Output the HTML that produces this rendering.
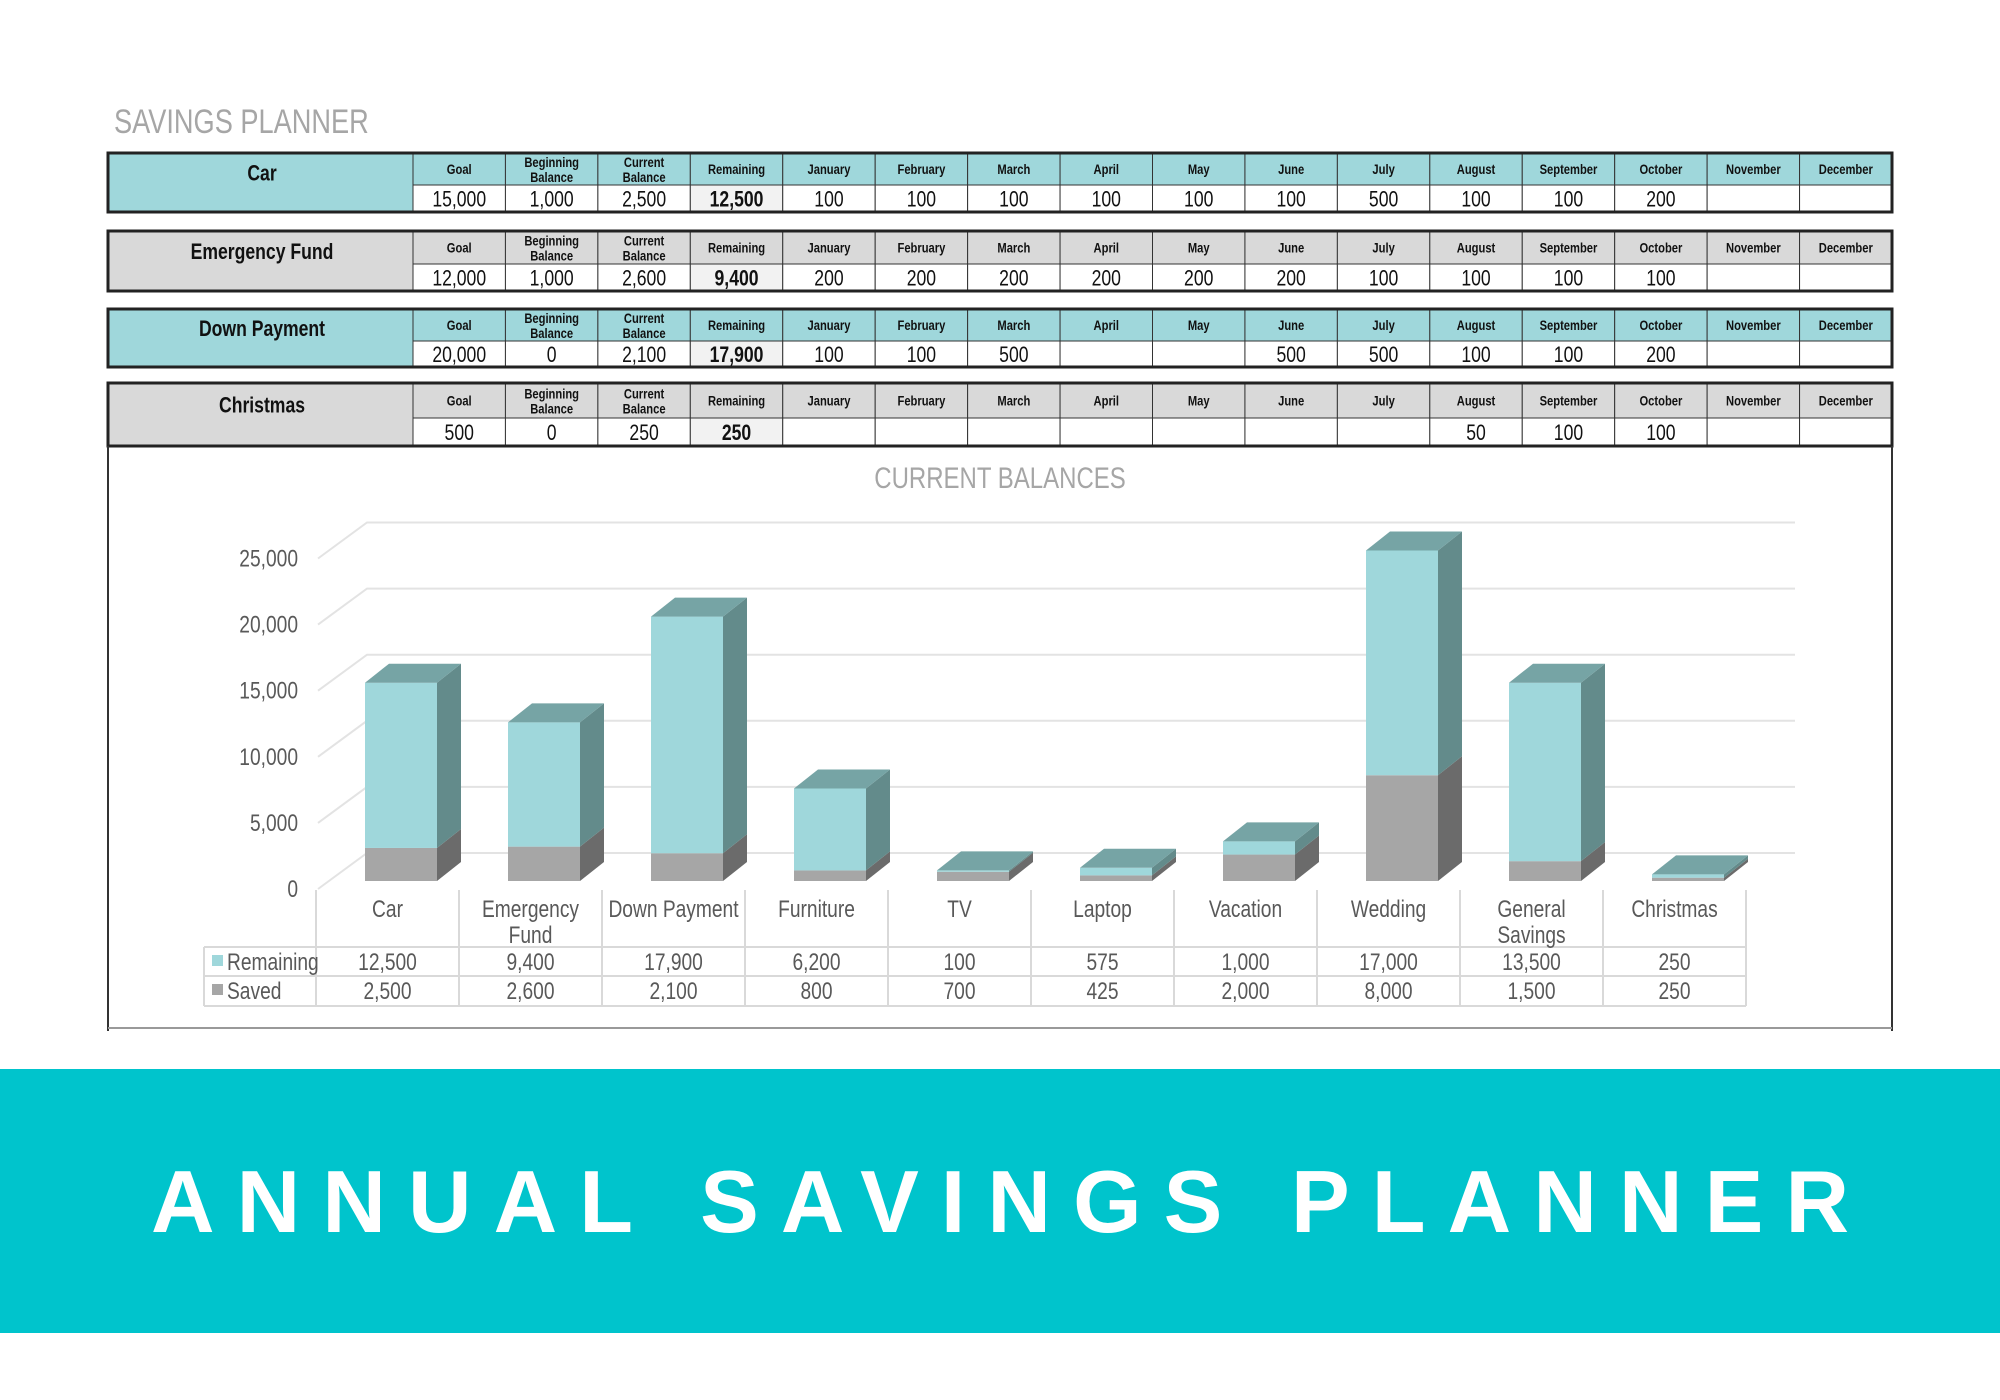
<!DOCTYPE html>
<html><head><meta charset="utf-8"><style>
html,body{margin:0;padding:0;background:#fff;}
svg{display:block;}
.n{font-family:"Liberation Sans Narrow","Liberation Sans",sans-serif;}
</style></head><body>
<svg id="root" width="2000" height="1400" viewBox="0 0 2000 1400" xmlns="http://www.w3.org/2000/svg">
<rect width="2000" height="1400" fill="#fff"/>
<text x="114" y="133" class="n" font-size="34" fill="#a6a6a6">SAVINGS PLANNER</text>
<g id="tables"></g>
<g id="chart"></g>
<rect x="0" y="1069" width="2000" height="264" fill="#00c4cc"/>
<text x="1000" y="1232" text-anchor="middle" font-family="Liberation Sans, sans-serif" font-weight="bold" font-size="88" fill="#fff" textLength="1698" lengthAdjust="spacing">ANNUAL SAVINGS PLANNER</text>
</svg>
<script>
var NS="http://www.w3.org/2000/svg";
function mk(p,tag,at){var e=document.createElementNS(NS,tag);for(var k in at)e.setAttribute(k,at[k]);p.appendChild(e);return e;}

// ---- tables data ----
var goalNames=["Car","Emergency Fund","Down Payment","Christmas"];
var goals=["15,000","12,000","20,000","500"];
var begins=["1,000","1,000","0","0"];
var currents=["2,500","2,600","2,100","250"];
var remains=["12,500","9,400","17,900","250"];
var monthsCar=["100","100","100","100","100","100","500","100","100","200","",""];
var monthsEF=["200","200","200","200","200","200","100","100","100","100","",""];
var monthsDP=["100","100","500","","","500","500","100","100","200","",""];
var monthsXmas=["","","","","","","","50","100","100","",""];
var headers=["Goal","Beginning|Balance","Current|Balance","Remaining","January","February","March","April","May","June","July","August","September","October","November","December"];

var allMonths=[monthsCar,monthsEF,monthsDP,monthsXmas];
var tops=[153,231,309,383],hh=[32,33,32,35],vh=[27,27,26,28];
var teal=["#9fd7db","#d9d9d9","#9fd7db","#d9d9d9"];
var tg=document.getElementById('tables');
var colW=(1892-413)/16;
for(var b=0;b<4;b++){
  var g=mk(tg,'g',{});
  
  
  var y=tops[b],H=hh[b]+vh[b];
  var nc=mk(g,'rect',{x:108,y:y,width:305,height:H,fill:teal[b]});
  
  
  var nt=mk(g,'text',{x:262,y:y+H/2-2,'text-anchor':'middle','font-size':22,'font-weight':'bold',fill:'#111','class':'n'});
  nt.textContent=goalNames[b];
  
  
  var vals=[goals[b],begins[b],currents[b],remains[b]].concat(allMonths[b]);
  for(var c=0;c<16;c++){
    var x=413+c*colW;
    mk(g,'rect',{x:x,y:y,width:colW,height:hh[b],fill:teal[b],stroke:'#333','stroke-width':1});
    var parts=headers[c].split('|');
    for(var p=0;p<parts.length;p++){
      var ht=mk(g,'text',{x:x+colW/2,y:parts.length==1?y+hh[b]/2+5:y+hh[b]/2-2+p*15,'text-anchor':'middle','font-size':14,'font-weight':'bold',fill:'#111','class':'n'});
      ht.textContent=parts[p];
      
      
    }
    var vc=mk(g,'rect',{x:x,y:y+hh[b],width:colW,height:vh[b],fill:c==3?'#f2f2f2':'#fff',stroke:'#333','stroke-width':1});
    
    
    var vt=mk(g,'text',{x:x+colW/2,y:y+hh[b]+vh[b]/2+8,'text-anchor':'middle','font-size':22,'font-weight':c==3?'bold':'normal',fill:'#111','class':'n'});
    vt.textContent=vals[c];
    
    
  }
  mk(g,'rect',{x:108,y:y,width:1784,height:H,fill:'none',stroke:'#222','stroke-width':3});
}

// ---- chart data ----
var categories=["Car","Emergency|Fund","Down Payment","Furniture","TV","Laptop","Vacation","Wedding","General|Savings","Christmas"];
var remaining=[12500,9400,17900,6200,100,575,1000,17000,13500,250];
var saved=[2500,2600,2100,800,700,425,2000,8000,1500,250];
var remainingLabels=["12,500","9,400","17,900","6,200","100","575","1,000","17,000","13,500","250"];
var savedLabels=["2,500","2,600","2,100","800","700","425","2,000","8,000","1,500","250"];
var yTicks=[0,5000,10000,15000,20000,25000];
var yTickLabels=["0","5,000","10,000","15,000","20,000","25,000"];

var ch=document.getElementById('chart');
var K=66.1/5000;
function yFront(v){return 889-v*K;}
function yBack(v){return 853-v*K;}
function yBar(v){return 881-v*K;}
var colL=316,colStep=143;
function xCol(i){return colL+i*colStep;}

mk(ch,'polyline',{points:'108,446 108,1031',stroke:'#333','stroke-width':2,fill:'none'});
mk(ch,'polyline',{points:'1892,446 1892,1031',stroke:'#333','stroke-width':2,fill:'none'});
mk(ch,'line',{x1:108,y1:1028,x2:1892,y2:1028,stroke:'#999','stroke-width':2});
var tt=mk(ch,'text',{x:1000,y:488,'text-anchor':'middle','font-size':30,fill:'#a6a6a6','class':'n'});
tt.textContent="CURRENT BALANCES";



for(var t=0;t<yTicks.length;t++){
  var v=yTicks[t];
  var gl=mk(ch,'polyline',{points:'318,'+yFront(v)+' 367,'+yBack(v)+' 1795,'+yBack(v),stroke:'#e3e3e3','stroke-width':2,fill:'none'});
  
  
  var tl=mk(ch,'text',{x:298,y:yFront(v)+8,'text-anchor':'end','font-size':24,fill:'#595959','class':'n'});
  tl.textContent=yTickLabels[t];
  
  
}

var W=72,DX=24,DY=-19;
function box(g,x,y0,y1,front,side,top,drawTop){
  mk(g,'rect',{x:x,y:y1,width:W,height:Math.max(0,y0-y1),fill:front});
  mk(g,'polygon',{points:(x+W)+','+y0+' '+(x+W+DX)+','+(y0+DY)+' '+(x+W+DX)+','+(y1+DY)+' '+(x+W)+','+y1,fill:side});
  if(drawTop)mk(g,'polygon',{points:x+','+y1+' '+(x+DX)+','+(y1+DY)+' '+(x+W+DX)+','+(y1+DY)+' '+(x+W)+','+y1,fill:top});
}
for(var i=0;i<categories.length;i++){
  var bx=xCol(i)+71.5+13.5-W/2;
  var gs=mk(ch,'g',{});
  
  
  box(gs,bx,yBar(0),yBar(saved[i]),'#a6a6a6','#6b6b6b','#8a8a8a',false);
  var gr=mk(ch,'g',{});
  
  
  box(gr,bx,yBar(saved[i]),yBar(saved[i]+remaining[i]),'#9fd7db','#638b8b','#76a4a5',true);
}

// data table
var tg2=mk(ch,'g',{});


mk(tg2,'line',{x1:204,y1:947,x2:1746,y2:947,stroke:'#d9d9d9','stroke-width':2});
mk(tg2,'line',{x1:204,y1:976,x2:1746,y2:976,stroke:'#d9d9d9','stroke-width':2});
mk(tg2,'line',{x1:204,y1:1006,x2:1746,y2:1006,stroke:'#d9d9d9','stroke-width':2});
mk(tg2,'line',{x1:204,y1:947,x2:204,y2:1006,stroke:'#d9d9d9','stroke-width':2});
for(var i=0;i<=categories.length;i++){
  mk(tg2,'line',{x1:xCol(i),y1:890,x2:xCol(i),y2:1006,stroke:'#d9d9d9','stroke-width':2});
}
for(var i=0;i<categories.length;i++){
  var cx=xCol(i)+71.5;
  var lines=categories[i].split('|');
  for(var p=0;p<lines.length;p++){
    var cl=mk(tg2,'text',{x:cx,y:917+p*26,'text-anchor':'middle','font-size':24,fill:'#595959','class':'n'});
    cl.textContent=lines[p];
    
    
  }
  var rv=mk(tg2,'text',{x:cx,y:970,'text-anchor':'middle','font-size':24,fill:'#595959','class':'n'});
  rv.textContent=remainingLabels[i];
  
  
  var sv=mk(tg2,'text',{x:cx,y:999,'text-anchor':'middle','font-size':24,fill:'#595959','class':'n'});
  sv.textContent=savedLabels[i];
  
  
}
var lk1=mk(tg2,'rect',{x:212,y:955,width:11,height:11,fill:'#9fd7db'});


var lt1=mk(tg2,'text',{x:227,y:970,'font-size':24,fill:'#595959','class':'n'});
lt1.textContent="Remaining";


var lk2=mk(tg2,'rect',{x:212,y:984,width:11,height:11,fill:'#a6a6a6'});


var lt2=mk(tg2,'text',{x:227,y:999,'font-size':24,fill:'#595959','class':'n'});
lt2.textContent="Saved";



// condense narrow-style text horizontally
var narrow=document.querySelectorAll('text.n');
for(var q=0;q<narrow.length;q++){
  var el=narrow[q];
  var tx=parseFloat(el.getAttribute('x')),ty=parseFloat(el.getAttribute('y'));
  el.setAttribute('x',0);el.setAttribute('y',0);
  el.setAttribute('transform','translate('+tx+' '+ty+') scale(0.8 1)');
}
</script>
</body></html>
